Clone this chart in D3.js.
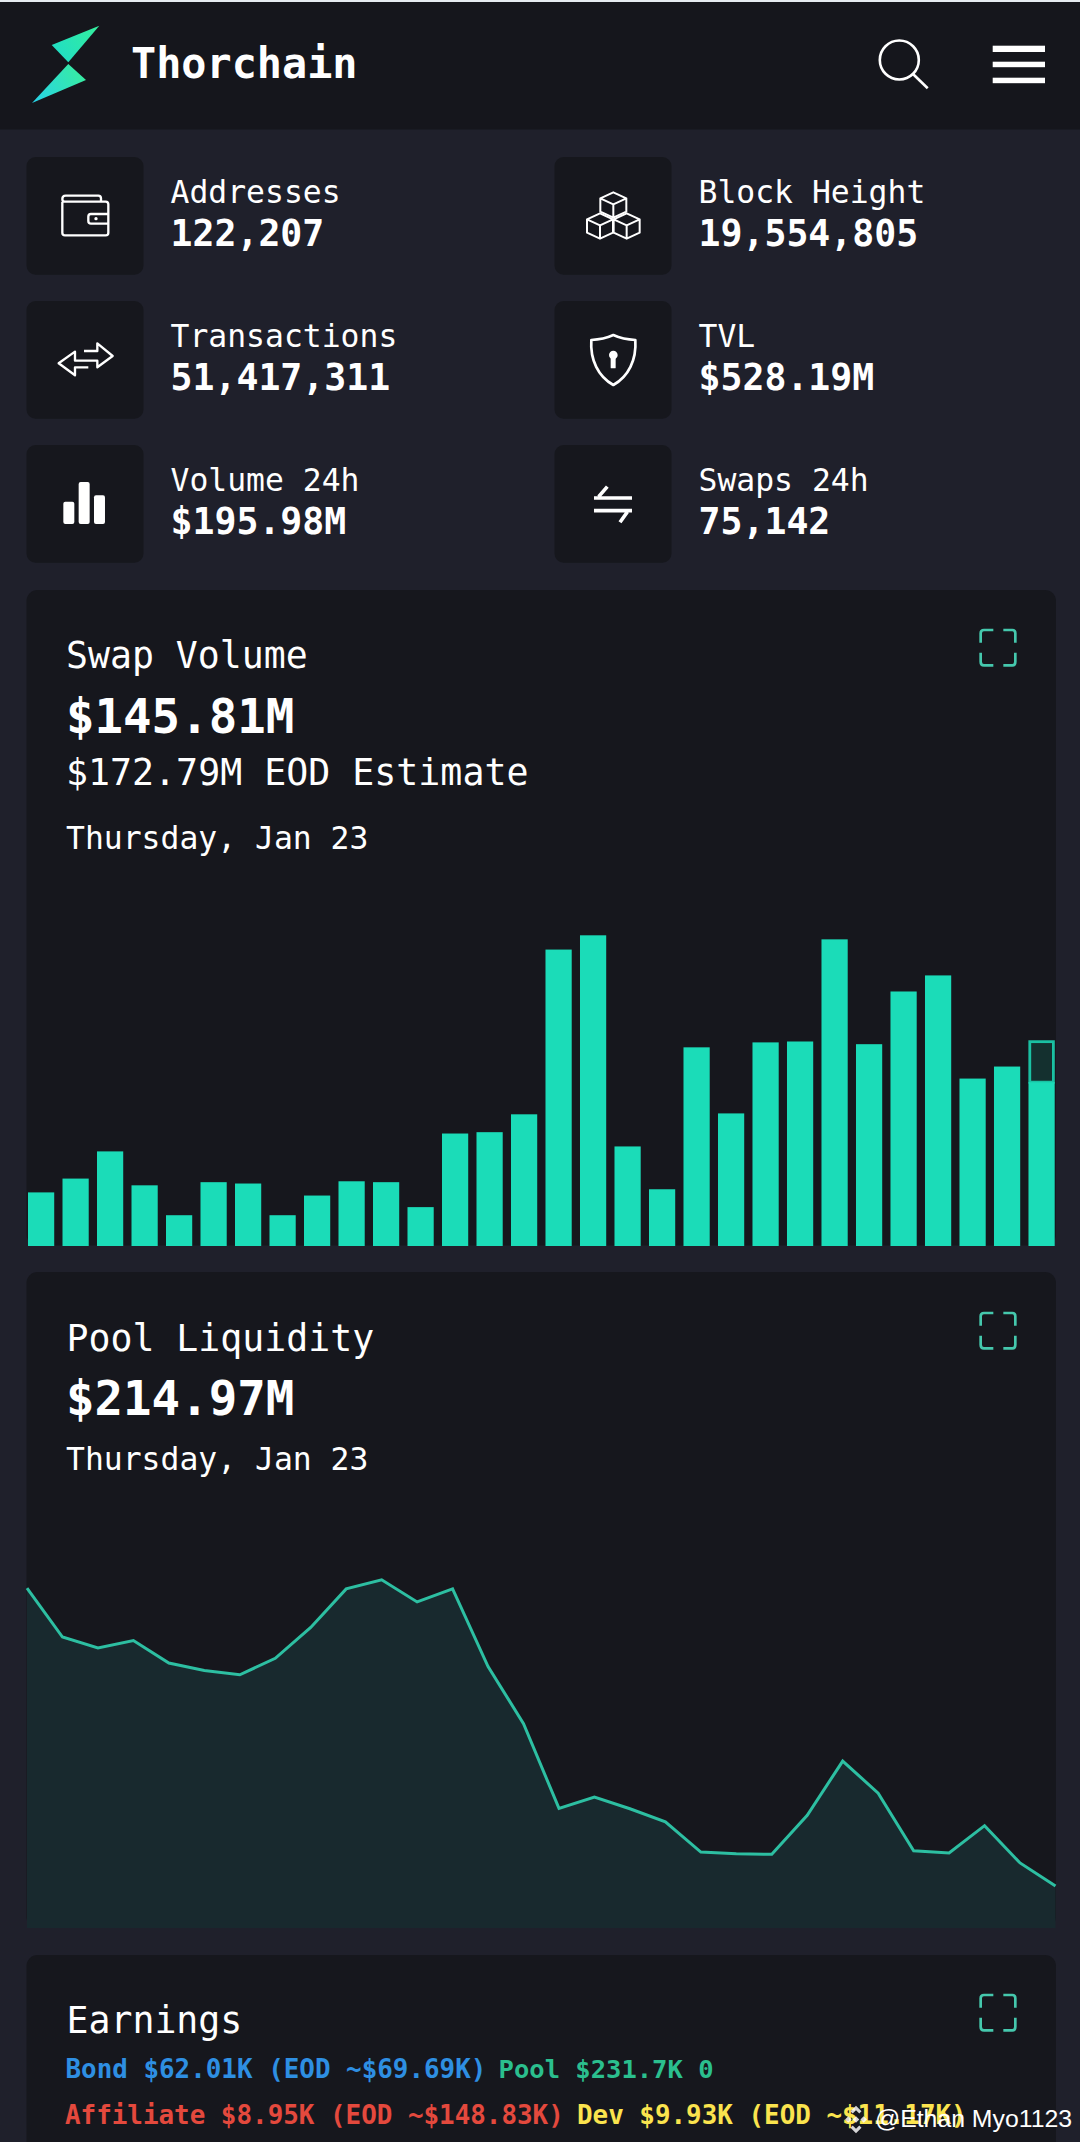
<!DOCTYPE html>
<html><head><meta charset="utf-8">
<script src="https://cdnjs.cloudflare.com/ajax/libs/d3/7.8.5/d3.min.js"></script>
<style>html,body{margin:0;padding:0;background:#1f202b;overflow:hidden}svg{display:block}text{font-family:"DejaVu Sans Mono",monospace;fill:#fff}</style>
</head><body><div id="c"></div>
<script>
const days = ["Dec 25","Dec 26","Dec 27","Dec 28","Dec 29","Dec 30","Dec 31","Jan 1","Jan 2","Jan 3","Jan 4","Jan 5","Jan 6","Jan 7","Jan 8","Jan 9","Jan 10","Jan 11","Jan 12","Jan 13","Jan 14","Jan 15","Jan 16","Jan 17","Jan 18","Jan 19","Jan 20","Jan 21","Jan 22","Jan 23"];
const swapVolume = [47.7,60,84.2,54,27.4,56.8,55.6,27.4,44.9,57.6,56.8,34.6,100.1,101.3,117.2,263.8,276.5,88.6,50.5,176.8,118,181.2,182,272.9,179.6,226.5,240.8,149,159.7,145.81];
const swapEstimateToday = 183;
const poolLiquidity = [558.5,502,489.5,498,472,463.5,458.5,477.5,513,557.5,568,542.5,557.5,468,402,304.5,317.5,304,289,254,252,251.5,296.5,359,322,255.5,253,284.5,241.5,214.97];
const statLabels = ["Addresses","Block Height","Transactions","TVL","Volume 24h","Swaps 24h"];
const statValues = ["122,207","19,554,805","51,417,311","$528.19M","$195.98M","75,142"];
const earningsLabels = ["Bond $62.01K (EOD ~$69.69K)","Pool $231.7K 0","Affiliate $8.95K (EOD ~$148.83K)","Dev $9.93K (EOD ~$11.17K)"];
const earningsColors = ["#2e8fe2","#2bbf8e","#e4493d","#fbe44e"];

const W=1080,H=2142,PANEL="#16171d",BG="#1f202b",TEAL="#1bdcb8";
const svg=d3.select("#c").append("svg").attr("width",W).attr("height",H).attr("viewBox",[0,0,W,H]);
const defs=svg.append("defs");
function grad(id,x1,y1,x2,y2,a,b){const g=defs.append("linearGradient").attr("id",id).attr("gradientUnits","userSpaceOnUse").attr("x1",x1).attr("y1",y1).attr("x2",x2).attr("y2",y2);g.append("stop").attr("offset",0).attr("stop-color",a);g.append("stop").attr("offset",1).attr("stop-color",b);}
grad("g1",52,58,96,30,"#1fdcc8","#33eda0");grad("g2",34,100,84,72,"#27d3e6","#38eda0");
svg.append("rect").attr("width",W).attr("height",H).attr("fill",BG);
svg.append("rect").attr("width",W).attr("height",129.5).attr("fill","#15161c");
svg.append("rect").attr("width",W).attr("height",2).attr("fill","#e6ebf0");
const T=(x,y,t,size,weight,color)=>svg.append("text").attr("x",x).attr("y",y).text(t).attr("font-size",size).attr("font-weight",weight||400).style("fill",color||"#fff");

// header
svg.append("path").attr("d","M99.3 25.7 L51.7 45 L68.3 62.3Z").attr("fill","url(#g1)");
svg.append("path").attr("d","M68.3 64 L86 80 L32 103Z").attr("fill","url(#g2)");
T(131,78,"Thorchain",41.8,700);
svg.append("circle").attr("cx",899.3).attr("cy",60).attr("r",19.5).attr("fill","none").attr("stroke","#fff").attr("stroke-width",2.6);
svg.append("line").attr("x1",913).attr("y1",74).attr("x2",927.7).attr("y2",88.3).attr("stroke","#fff").attr("stroke-width",2.6);
[45.7,61.7,77.7].forEach((y,i)=>svg.append("rect").attr("x",992.7).attr("y",y).attr("width",52.3).attr("height",i==0?6.3:5.5).attr("fill","#fff"));

// stat cards
const cardX=[26.5,554.5],cardY=[157,301,445];
statLabels.forEach((l,i)=>{const c=i%2,r=Math.floor(i/2);
  svg.append("rect").attr("x",cardX[c]).attr("y",cardY[r]).attr("width",117).attr("height",117.7).attr("rx",9).attr("fill",PANEL);
  const tx=c?698.5:170.5,off=[0,144,288.3][r];
  T(tx,202.7+off,l,31.4,400);
  T(tx,246+off,statValues[i],36.5,700);
});
const ic1=svg.append("g").attr("transform","translate(20,150) scale(.3333)").attr("fill","none").attr("stroke","#fff").attr("stroke-width",7).attr("stroke-linejoin","round");
ic1.append("path").attr("d","M127 155V248Q127 256 135 256H257Q265 256 265 248V163Q265 155 257 155H135Q127 155 127 147Q127 137 137 137H235Q243 137 243 145V155");
ic1.append("path").attr("d","M265 192H213Q205 192 205 200V213Q205 221 213 221H265");
ic1.append("circle").attr("cx",228).attr("cy",206).attr("r",5).attr("fill","#fff").attr("stroke","none");
ic1.append("path").attr("d","M192 603H232V580L278 618L232 652V632H165V605L116 640L165 676V652H205");
[[130,1055,67],[176,996,126],[222,1036,86]].forEach(b=>ic1.append("rect").attr("x",b[0]).attr("y",b[1]).attr("width",33).attr("height",b[2]).attr("rx",6).attr("fill","#fff").attr("stroke","none"));
const ic2=svg.append("g").attr("transform","translate(550,150) scale(.3333)").attr("fill","none").attr("stroke","#fff").attr("stroke-width",6).attr("stroke-linejoin","round");
[[190,127],[150,190],[230,190]].forEach(p=>{const x=p[0],y=p[1];
  ic2.append("path").attr("d",`M${x} ${y}L${x+39} ${y+18}V${y+58}L${x} ${y+76}L${x-39} ${y+58}V${y+18}ZM${x-39} ${y+18}L${x} ${y+36}L${x+39} ${y+18}M${x} ${y+36}V${y+76}`);});
ic2.append("path").attr("stroke-width",8).attr("d","M190 555C212 565 235 569 256 570C260 630 235 680 190 705C145 680 120 630 124 570C145 569 168 565 190 555Z");
ic2.append("circle").attr("cx",190).attr("cy",615).attr("r",13).attr("fill","#fff").attr("stroke","none");
ic2.append("rect").attr("x",182).attr("y",618).attr("width",15).attr("height",37).attr("rx",2).attr("fill","#fff").attr("stroke","none");
ic2.append("path").attr("stroke-width",11).attr("stroke-linejoin","miter").attr("d","M246 1044H132M146 1040L172 1010M132 1082H246M232 1086L210 1117");

// panels
[[590,655.6],[1272,656],[1955,200]].forEach(p=>svg.append("rect").attr("x",26.5).attr("y",p[0]).attr("width",1029.5).attr("height",p[1]).attr("rx",11).attr("fill",PANEL));
[0,683,1365].forEach(dy=>svg.append("g").attr("transform",`translate(960,${610+dy}) scale(.3333)`).append("path").attr("fill","none").attr("stroke","#45c8ad").attr("stroke-width",8)
  .attr("d","M100 60H72Q62 60 62 70V98M130 60H157Q166 60 166 70V98M62 128V155Q62 166 72 166H100M166 128V155Q166 166 157 166H130"));

// swap volume
T(66,668,"Swap Volume",36.5);
T(66,732.7,"$145.81M",47.4,700);
T(66,785,"$172.79M EOD Estimate",36.6);
T(66,849,"Thursday, Jan 23",31.4);
const xb=d3.scaleBand().domain(days).range([28,1054.7]).paddingInner(.24);
const yb=d3.scaleLinear().domain([0,d3.max(swapVolume)]).range([1246,935.3]);
svg.append("g").selectAll("rect").data(days).join("rect")
  .attr("x",d=>xb(d)).attr("width",xb.bandwidth())
  .attr("y",(d,i)=>yb(swapVolume[i])).attr("height",(d,i)=>yb(0)-yb(swapVolume[i])).attr("fill",TEAL);
const lastDay=days[days.length-1],today=swapVolume[swapVolume.length-1];
svg.append("rect").attr("x",xb(lastDay)+1.3).attr("width",xb.bandwidth()-2.6)
  .attr("y",yb(swapEstimateToday)+1.3).attr("height",yb(today)-yb(swapEstimateToday)-1.3)
  .attr("fill","#14302f").attr("stroke",TEAL).attr("stroke-opacity",.85).attr("stroke-width",2.8);

// pool liquidity
T(66.5,1350.7,"Pool Liquidity",36.5);
T(66,1415,"$214.97M",47.4,700);
T(66,1470,"Thursday, Jan 23",31.4);
const xp=d3.scalePoint().domain(days).range([27,1055.5]);
const yp=d3.scaleLinear().domain([166.5,568]).range([1928,1579.8]);
svg.append("path").datum(poolLiquidity).attr("fill","#18292e")
  .attr("d",d3.area().x((d,i)=>xp(days[i])).y0(yp(166.5)).y1(d=>yp(d)));
svg.append("path").datum(poolLiquidity).attr("fill","none").attr("stroke","#2dbfa2").attr("stroke-width",3)
  .attr("d",d3.line().x((d,i)=>xp(days[i])).y(d=>yp(d)));

// earnings
T(66.5,2033,"Earnings",36.5);
const ex=[65.5,498.6,65,577],ey=[2078,2078,2124,2124],es=[25.9,25.5,25.9,25.9];
earningsLabels.forEach((t,i)=>T(ex[i],ey[i],t,es[i],700,earningsColors[i]));

// watermark
const wm=svg.append("g").attr("transform","translate(856,2119.5) scale(1.1)").attr("fill","#fff").attr("fill-opacity",.82);
wm.append("path").attr("d","M0 -12.5L5 -7.5L3 -5.5L0 -8.5L-3 -5.5L-5 -7.5ZM0 12.5L5 7.5L3 5.5L0 8.5L-3 5.5L-5 7.5ZM-10 0L-7 -3L-4 0L-7 3ZM10 0L7 -3L4 0L7 3ZM0 -3L3 0L0 3L-3 0Z");
svg.append("text").attr("x",875).attr("y",2126.7).text("@Ethan Myo1123").attr("font-size",24.8).style("font-family","'Liberation Sans',sans-serif").style("fill","#fff");
</script></body></html>
